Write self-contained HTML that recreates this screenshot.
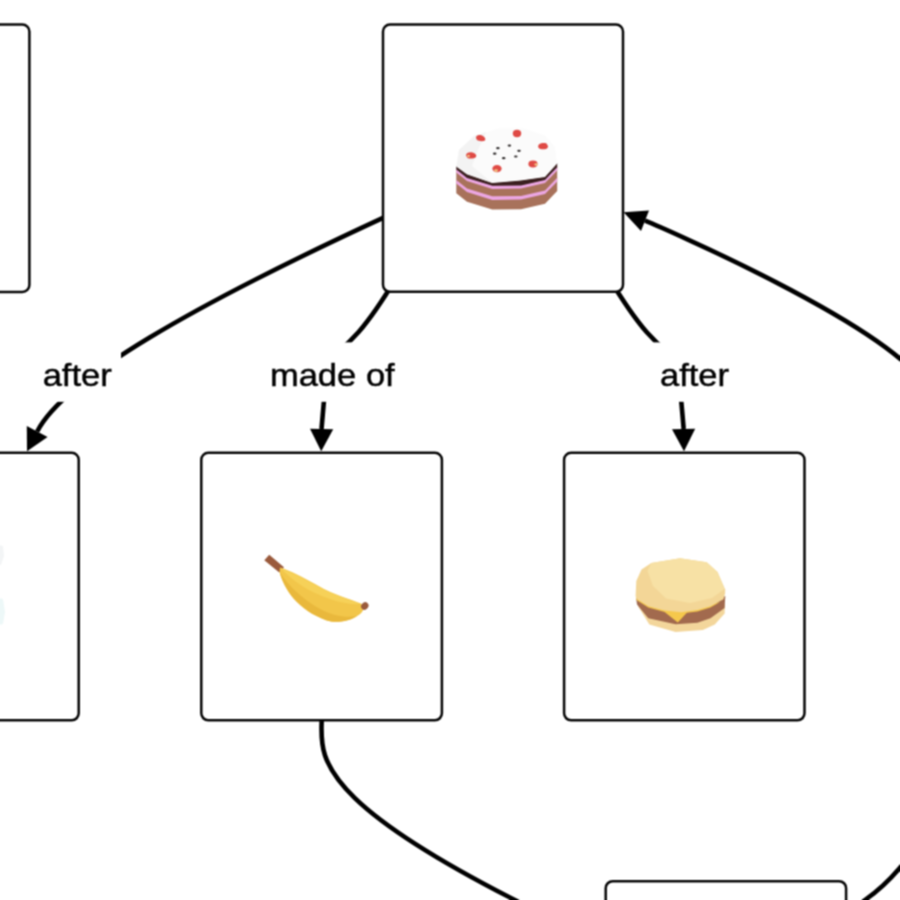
<!DOCTYPE html>
<html>
<head>
<meta charset="utf-8">
<style>
html,body{margin:0;padding:0;background:#fff;width:900px;height:900px;overflow:hidden}
svg{display:block}
text{font-family:"Liberation Sans",sans-serif}
</style>
</head>
<body>
<svg width="900" height="900" viewBox="0 0 900 900">
<defs><filter id="soft" x="0" y="0" width="900" height="900" filterUnits="userSpaceOnUse" color-interpolation-filters="sRGB"><feConvolveMatrix order="3" kernelMatrix="1 2 1 2 4 2 1 2 1" divisor="16" edgeMode="duplicate"/></filter></defs>
<g filter="url(#soft)">
<rect x="0" y="0" width="900" height="900" fill="#fff"/>
<!-- edges -->
<g fill="none" stroke="#000" stroke-width="4.6" stroke-linecap="butt">
  <path id="eA" d="M383 217.9C193.5 305.5 64.4 378.9 37.2 431.5"/>
  <path id="eB" d="M396.3 277.7C321.1 402.7 332.3 305.6 321.5 429"/>
  <path id="eC" d="M608.9 277.7C684.1 402.7 672.9 305.6 683.7 429"/>
  <path id="eD" d="M321.8 715C321.8 755.5 299.1 802.5 601.3 941.8"/>
  <path id="eE1" d="M925.2 386.3C890.6 325.6 654.5 224.4 645 220.65"/>
  <path id="eE2" d="M859.4 904L865 900Q883.65 886.75 898.9 868.9L903.5 863.5"/>
</g>
<g fill="#000" stroke="none">
  <path d="M27.0 451.3L26.8 426.1L47.6 436.9Z"/>
  <path d="M321.2 451.3L310.0 428.8L333.2 429.2Z"/>
  <path d="M684.0 451.3L672.0 429.2L695.2 428.8Z"/>
  <path d="M623.6 212.2L649.0 210.4L641.0 230.9Z"/>
</g>
<!-- label backgrounds -->
<g fill="#fff">
  <rect x="33" y="342.4" width="88" height="59.4"/>
  <rect x="261" y="342.4" width="141" height="59.4"/>
  <rect x="651" y="342.4" width="87" height="59.4"/>
</g>
<g font-size="32" fill="#000" stroke="#000" stroke-width="0.45" text-anchor="middle" style="will-change:transform">
  <text transform="translate(77.2 386) scale(1.08 1)">after</text>
  <text transform="translate(332.3 386) scale(1.08 1)">made of</text>
  <text transform="translate(694.5 386) scale(1.08 1)">after</text>
</g>
<!-- boxes -->
<g fill="#fff" stroke="#050505" stroke-width="2.5">
  <rect x="-211" y="24.5" width="240.4" height="267.4" rx="7"/>
  <rect x="383" y="24.6" width="240" height="267.2" rx="7"/>
  <rect x="-161.8" y="452.8" width="240.5" height="267.5" rx="7"/>
  <rect x="201.3" y="452.8" width="240.6" height="267.5" rx="7"/>
  <rect x="564.1" y="452.8" width="240.4" height="267.5" rx="7"/>
  <rect x="605.7" y="881.2" width="240.4" height="267.5" rx="7"/>
</g>

<!-- cake -->
<g id="cake">
  <path d="M456.3 169.0L467 177.5L492.3 185.3L521 185.0L545 179.5L557.2 166.8L557.2 191.0L545 203.7L521 209.2L492.3 209.5L467 201.7L456.3 193.2Z" fill="#a8725b"/>
  <path d="M456.3 169.0L467 177.5L492.3 185.3L521 185.0L545 179.5L557.2 166.8L557.2 170.4L545 183.1L521 188.6L492.3 188.9L467 181.1L456.3 172.6Z" fill="#eba6e2"/>
  <path d="M456.3 180.0L467 188.5L492.3 196.3L521 196.0L545 190.5L557.2 177.8L557.2 181.4L545 194.1L521 199.6L492.3 199.9L467 192.1L456.3 183.6Z" fill="#eba6e2"/>
  <path d="M456.3 166.1L467 173.7L492.3 182.6L521 180.1L545 176.5L557.2 163.1L557.2 167.3L545 180.0L521 185.5L492.3 185.8L467 178.0L456.3 169.5Z" fill="#3a1f1f"/>
  <path d="M456.3 166.6L459 150L474 136L498 128.5L524 128.5L545 135.5L555 147L557.1 163.6L544.9 177L520.6 180.6L492.3 183.1L467 174.2Z" fill="#fbfbfb"/>
  <path d="M456.3 166.6L459 150L474 136L486 132L478 150L472 166L492.3 183.1L467 174.2Z" fill="#f0f0f0" opacity="0.7"/>
  <g fill="#df4a45">
    <path d="M476 138C476 135 479 134.5 482 135.5C484.5 136.5 486 138.5 485 140.5C483 141.5 479 141.3 477 140Z"/>
    <ellipse cx="517" cy="133.5" rx="4.2" ry="3.7"/>
    <path d="M548 146C548 149 545 149.5 541.5 149.3C538.5 149 537.5 147 538.5 145C540 143 544 142.5 546.5 143.5Z"/>
    <path d="M466 155.5C466 152.5 469.5 152 472.5 152.5C475.5 153.5 477 155 476 157C474 158.8 470 159 467.5 158Z"/>
    <ellipse cx="533" cy="164" rx="4.6" ry="3.4"/>
    <ellipse cx="497" cy="168.6" rx="4.6" ry="3.7"/>
  </g>
  <g fill="#f4d38a" opacity="0.9">
    <ellipse cx="496" cy="170.5" rx="2" ry="1.3"/>
    <ellipse cx="536" cy="164.5" rx="1.6" ry="1.2"/>
    <ellipse cx="468.5" cy="156" rx="1.3" ry="1.2"/>
  </g>
  <g fill="#2e2a2a">
    <ellipse cx="497.9" cy="148.2" rx="1.8" ry="1.1"/>
    <ellipse cx="509.4" cy="145.6" rx="1.8" ry="1.1"/>
    <ellipse cx="519" cy="150.8" rx="1.8" ry="1.1"/>
    <ellipse cx="494.7" cy="153.7" rx="1.8" ry="1.1"/>
    <ellipse cx="503.7" cy="158.2" rx="1.8" ry="1.1"/>
    <ellipse cx="515.8" cy="156.5" rx="1.8" ry="1.1"/>
  </g>
</g>
<!-- banana -->
<g id="banana">
  <path d="M264.3 560.2L269.2 554.8L284 567.3L279.3 572.6Z" fill="#9a5a3c"/>
  <path d="M280 567.5C292 571 306 579 324 589C340 596.5 352 600 361 603.5C364.5 606 364.5 611 359.5 614.5C351 620.5 341 622.5 331 621.5C318 618.5 305 610 297 602C289 594 283 584 279.5 572Z" fill="#f2c64a"/>
  <path d="M281 568.5C292 572 306 580 324 589.5C340 597 352 600.5 360.5 604C350 604.5 338 602.5 322 596C305 589 292 580 281 568.5Z" fill="#f6d158"/>
  <path d="M279.5 572C283 584 289 594 297 602C305 610 318 618.5 331 621.5C341 622.5 351 620.5 357 616C346 618 334 616 321 609.5C305 601 291 589 279.5 572Z" fill="#e9b83c"/>
  <ellipse cx="364.8" cy="606" rx="3.4" ry="4" transform="rotate(40 364.8 606)" fill="#9a5a3c"/>
</g>
<!-- burger -->
<g id="burger">
  <path d="M638.5 607L649.4 624.5L675.6 632L702.8 630L714.8 624.5L724.6 613.5L725 604L637 600Z" fill="#f3d69b"/>
  <path d="M636 597L637 604.5L648.3 618.3L675.6 624.3L697.4 622.8L710.4 618.3L724.6 608L725.3 596L711 603L681 609L650 603Z" fill="#a26a4e"/>
  <path d="M636 592L636.4 600L648.3 607.5L664.7 612L681 613.5L697.4 611.5L710.4 607.5L720 602L710.4 604L681 608L664.7 607L648.3 603Z" fill="#f5c84c"/>
  <path d="M664 611.5L688 611.5L677.8 622.5Z" fill="#f5c84c"/>
  <path d="M635.6 596L636.3 581L641.5 569.5L651.3 563L680 558.3L706.7 562.3L717.5 572L725.2 589.5L725.1 593.5L723.5 599.2L710.4 606.3L697.4 610.1L681 612.3L664.7 610.6L648.3 606.3L636.4 598.7Z" fill="#f3d697"/>
  <path d="M651.3 563L680 558.3L706.7 562.3L717.5 572L724.5 589L712 598L690 603L666 598.5L653 586L647.5 571Z" fill="#f7e1a5"/>
</g>
<!-- faint blue item at left middle box -->
<path d="M-10 543L3 546L4 556L1 565L-10 566Z" fill="#f3f5f6"/>
<path d="M-10 596L3 599L5 612L3 624L-10 627Z" fill="#edf8f8"/>
</g>
</svg>
</body>
</html>
